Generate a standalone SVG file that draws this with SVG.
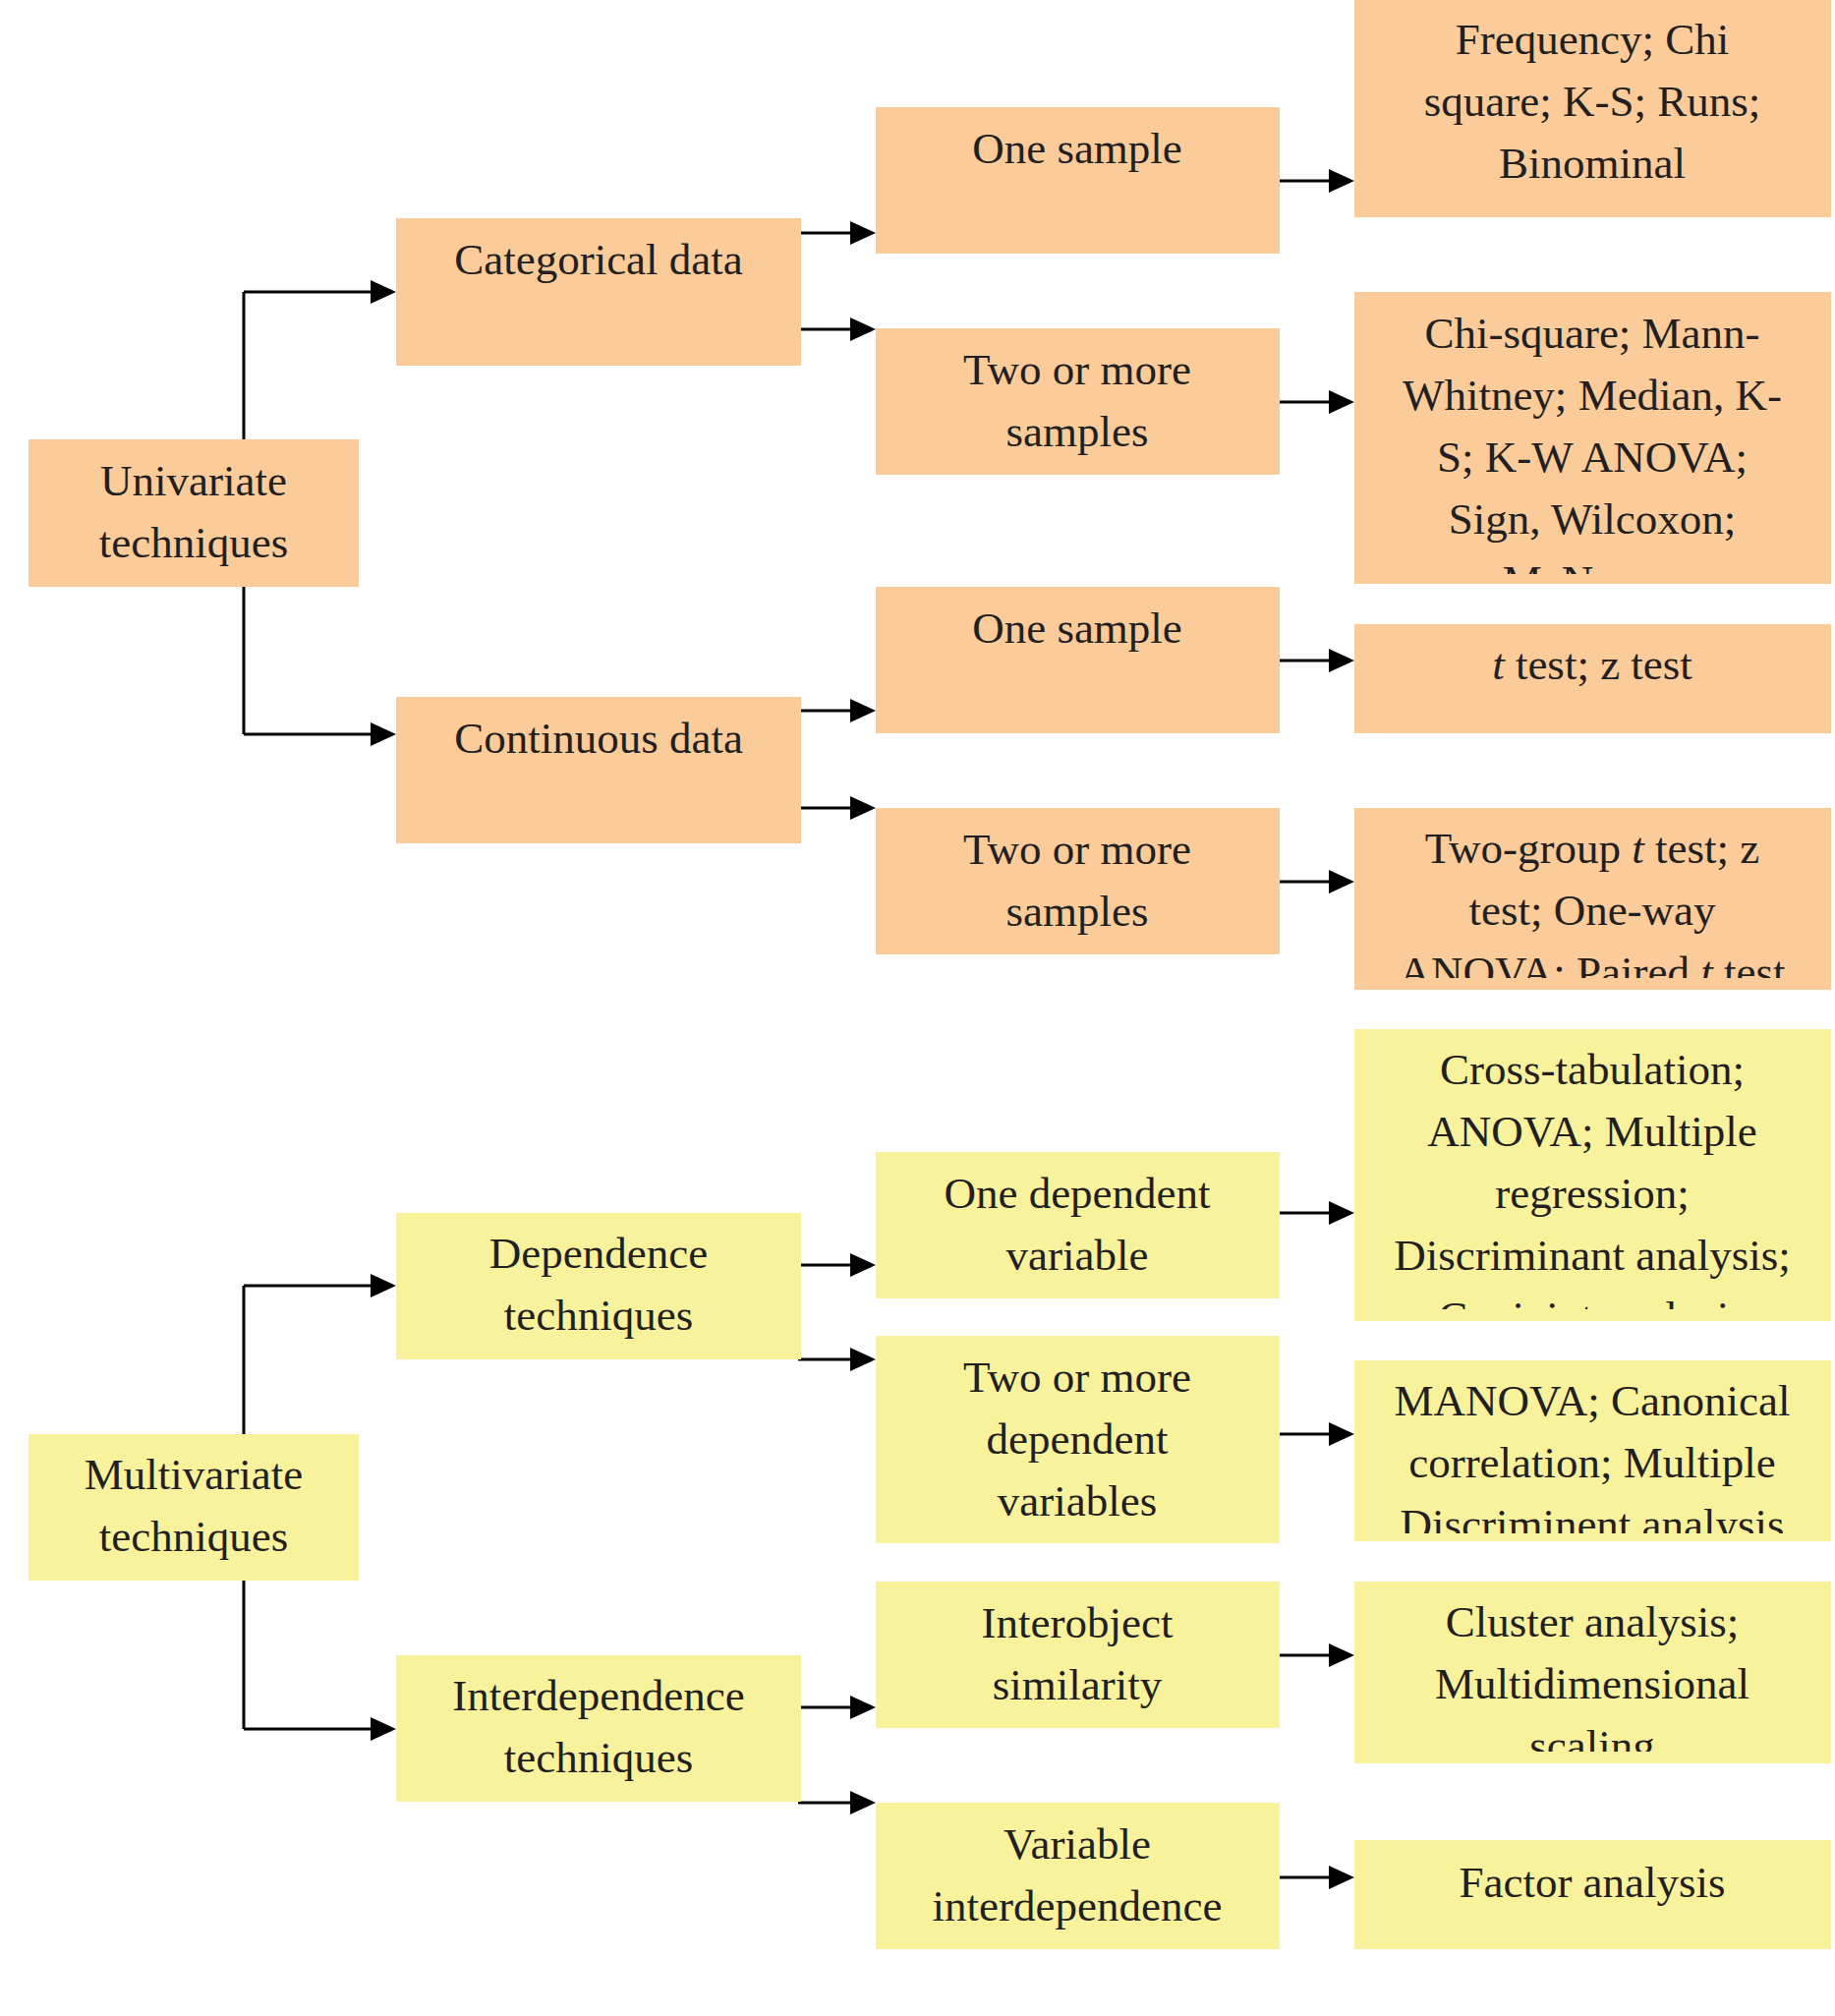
<svg xmlns="http://www.w3.org/2000/svg" width="1867" height="2051" viewBox="0 0 1867 2051">
<style>
  .o { fill: #FBCB9A; }
  .y { fill: #F9F29D; }
  text { font-family: "Liberation Serif", "Times New Roman", serif; font-size: 45px; fill: #231F20; text-anchor: middle; }
  .c { fill: none; stroke: #000; stroke-width: 3; }
  .a { fill: none; stroke: #000; stroke-width: 3; marker-end: url(#ah); }
</style>
<defs>
  <marker id="ah" markerWidth="26" markerHeight="24" refX="2" refY="12" orient="auto" markerUnits="userSpaceOnUse">
    <path d="M0,0 L26,12 L0,24 z" fill="#000"/>
  </marker>
  <clipPath id="clipChi"><rect x="1378" y="297" width="485" height="287"/></clipPath>
  <clipPath id="clipTwoGroup"><rect x="1378" y="822" width="485" height="173"/></clipPath>
  <clipPath id="clipCross"><rect x="1378" y="1047" width="485" height="285"/></clipPath>
  <clipPath id="clipManova"><rect x="1378" y="1384" width="485" height="176"/></clipPath>
  <clipPath id="clipCluster"><rect x="1378" y="1609" width="485" height="173"/></clipPath>
</defs>
<rect width="1867" height="2051" fill="#fff"/>

<g id="connectors">
  <path class="c" d="M248,447 V297"/>
  <path class="a" d="M248,297 H379"/>
  <path class="c" d="M248,597 V747"/>
  <path class="a" d="M248,747 H379"/>
  <path class="c" d="M248,1459 V1308"/>
  <path class="a" d="M248,1308 H379"/>
  <path class="c" d="M248,1608 V1759"/>
  <path class="a" d="M248,1759 H379"/>

  <path class="a" d="M812,237 H867"/>
  <path class="a" d="M812,335 H867"/>
  <path class="a" d="M812,723 H867"/>
  <path class="a" d="M812,822 H867"/>
  <path class="a" d="M812,1287 H867"/>
  <path class="a" d="M812,1383 H867"/>
  <path class="a" d="M812,1737 H867"/>
  <path class="a" d="M812,1834 H867"/>

  <path class="a" d="M1299,184 H1354"/>
  <path class="a" d="M1299,409 H1354"/>
  <path class="a" d="M1299,672 H1354"/>
  <path class="a" d="M1299,897 H1354"/>
  <path class="a" d="M1299,1234 H1354"/>
  <path class="a" d="M1299,1459 H1354"/>
  <path class="a" d="M1299,1684 H1354"/>
  <path class="a" d="M1299,1910 H1354"/>
</g>

<g id="univariate">
  <rect class="o" x="29" y="447" width="336" height="150"/>
  <text x="197" y="504">Univariate</text>
  <text x="197" y="567">techniques</text>
</g>
<g id="categorical">
  <rect class="o" x="403" y="222" width="412" height="150"/>
  <text x="609" y="279">Categorical data</text>
</g>
<g id="continuous">
  <rect class="o" x="403" y="709" width="412" height="149"/>
  <text x="609" y="766">Continuous data</text>
</g>
<g id="cat-one-sample">
  <rect class="o" x="891" y="109" width="411" height="149"/>
  <text x="1096" y="166">One sample</text>
</g>
<g id="cat-two-samples">
  <rect class="o" x="891" y="334" width="411" height="149"/>
  <text x="1096" y="391">Two or more</text>
  <text x="1096" y="454">samples</text>
</g>
<g id="con-one-sample">
  <rect class="o" x="891" y="597" width="411" height="149"/>
  <text x="1096" y="654">One sample</text>
</g>
<g id="con-two-samples">
  <rect class="o" x="891" y="822" width="411" height="149"/>
  <text x="1096" y="879">Two or more</text>
  <text x="1096" y="942">samples</text>
</g>
<g id="frequency">
  <rect class="o" x="1378" y="0" width="485" height="221"/>
  <text x="1620" y="55">Frequency; Chi</text>
  <text x="1620" y="118">square; K-S; Runs;</text>
  <text x="1620" y="181">Binominal</text>
</g>
<g id="chi-square">
  <rect class="o" x="1378" y="297" width="485" height="297"/>
  <g clip-path="url(#clipChi)">
    <text x="1620" y="354">Chi-square; Mann-</text>
    <text x="1620" y="417">Whitney; Median, K-</text>
    <text x="1620" y="480">S; K-W ANOVA;</text>
    <text x="1620" y="543">Sign, Wilcoxon;</text>
    <text x="1620" y="606">McNemar</text>
  </g>
</g>
<g id="t-test">
  <rect class="o" x="1378" y="635" width="485" height="111"/>
  <text x="1620" y="691"><tspan font-style="italic">t</tspan> test; z test</text>
</g>
<g id="two-group">
  <rect class="o" x="1378" y="822" width="485" height="185"/>
  <g clip-path="url(#clipTwoGroup)">
    <text x="1620" y="878">Two-group <tspan font-style="italic">t</tspan> test; z</text>
    <text x="1620" y="941">test; One-way</text>
    <text x="1620" y="1004">ANOVA; Paired <tspan font-style="italic">t</tspan> test</text>
  </g>
</g>

<g id="multivariate">
  <rect class="y" x="29" y="1459" width="336" height="149"/>
  <text x="197" y="1515">Multivariate</text>
  <text x="197" y="1578">techniques</text>
</g>
<g id="dependence">
  <rect class="y" x="403" y="1234" width="412" height="149"/>
  <text x="609" y="1290">Dependence</text>
  <text x="609" y="1353">techniques</text>
</g>
<g id="interdependence">
  <rect class="y" x="403" y="1684" width="412" height="149"/>
  <text x="609" y="1740">Interdependence</text>
  <text x="609" y="1803">techniques</text>
</g>
<g id="one-dependent">
  <rect class="y" x="891" y="1172" width="411" height="149"/>
  <text x="1096" y="1229">One dependent</text>
  <text x="1096" y="1292">variable</text>
</g>
<g id="two-dependent">
  <rect class="y" x="891" y="1359" width="411" height="211"/>
  <text x="1096" y="1416">Two or more</text>
  <text x="1096" y="1479">dependent</text>
  <text x="1096" y="1542">variables</text>
</g>
<g id="interobject">
  <rect class="y" x="891" y="1609" width="411" height="149"/>
  <text x="1096" y="1666">Interobject</text>
  <text x="1096" y="1729">similarity</text>
</g>
<g id="variable-interdependence">
  <rect class="y" x="891" y="1834" width="411" height="149"/>
  <text x="1096" y="1891">Variable</text>
  <text x="1096" y="1954">interdependence</text>
</g>
<g id="cross-tabulation">
  <rect class="y" x="1378" y="1047" width="485" height="297"/>
  <g clip-path="url(#clipCross)">
    <text x="1620" y="1103">Cross-tabulation;</text>
    <text x="1620" y="1166">ANOVA; Multiple</text>
    <text x="1620" y="1229">regression;</text>
    <text x="1620" y="1292">Discriminant analysis;</text>
    <text x="1620" y="1355">Conjoint analysis</text>
  </g>
</g>
<g id="manova">
  <rect class="y" x="1378" y="1384" width="485" height="184"/>
  <g clip-path="url(#clipManova)">
    <text x="1620" y="1440">MANOVA; Canonical</text>
    <text x="1620" y="1503">correlation; Multiple</text>
    <text x="1620" y="1566">Discriminent analysis</text>
  </g>
</g>
<g id="cluster">
  <rect class="y" x="1378" y="1609" width="485" height="185"/>
  <g clip-path="url(#clipCluster)">
    <text x="1620" y="1665">Cluster analysis;</text>
    <text x="1620" y="1728">Multidimensional</text>
    <text x="1620" y="1791">scaling</text>
  </g>
</g>
<g id="factor">
  <rect class="y" x="1378" y="1872" width="485" height="111"/>
  <text x="1620" y="1930">Factor analysis</text>
</g>
</svg>
